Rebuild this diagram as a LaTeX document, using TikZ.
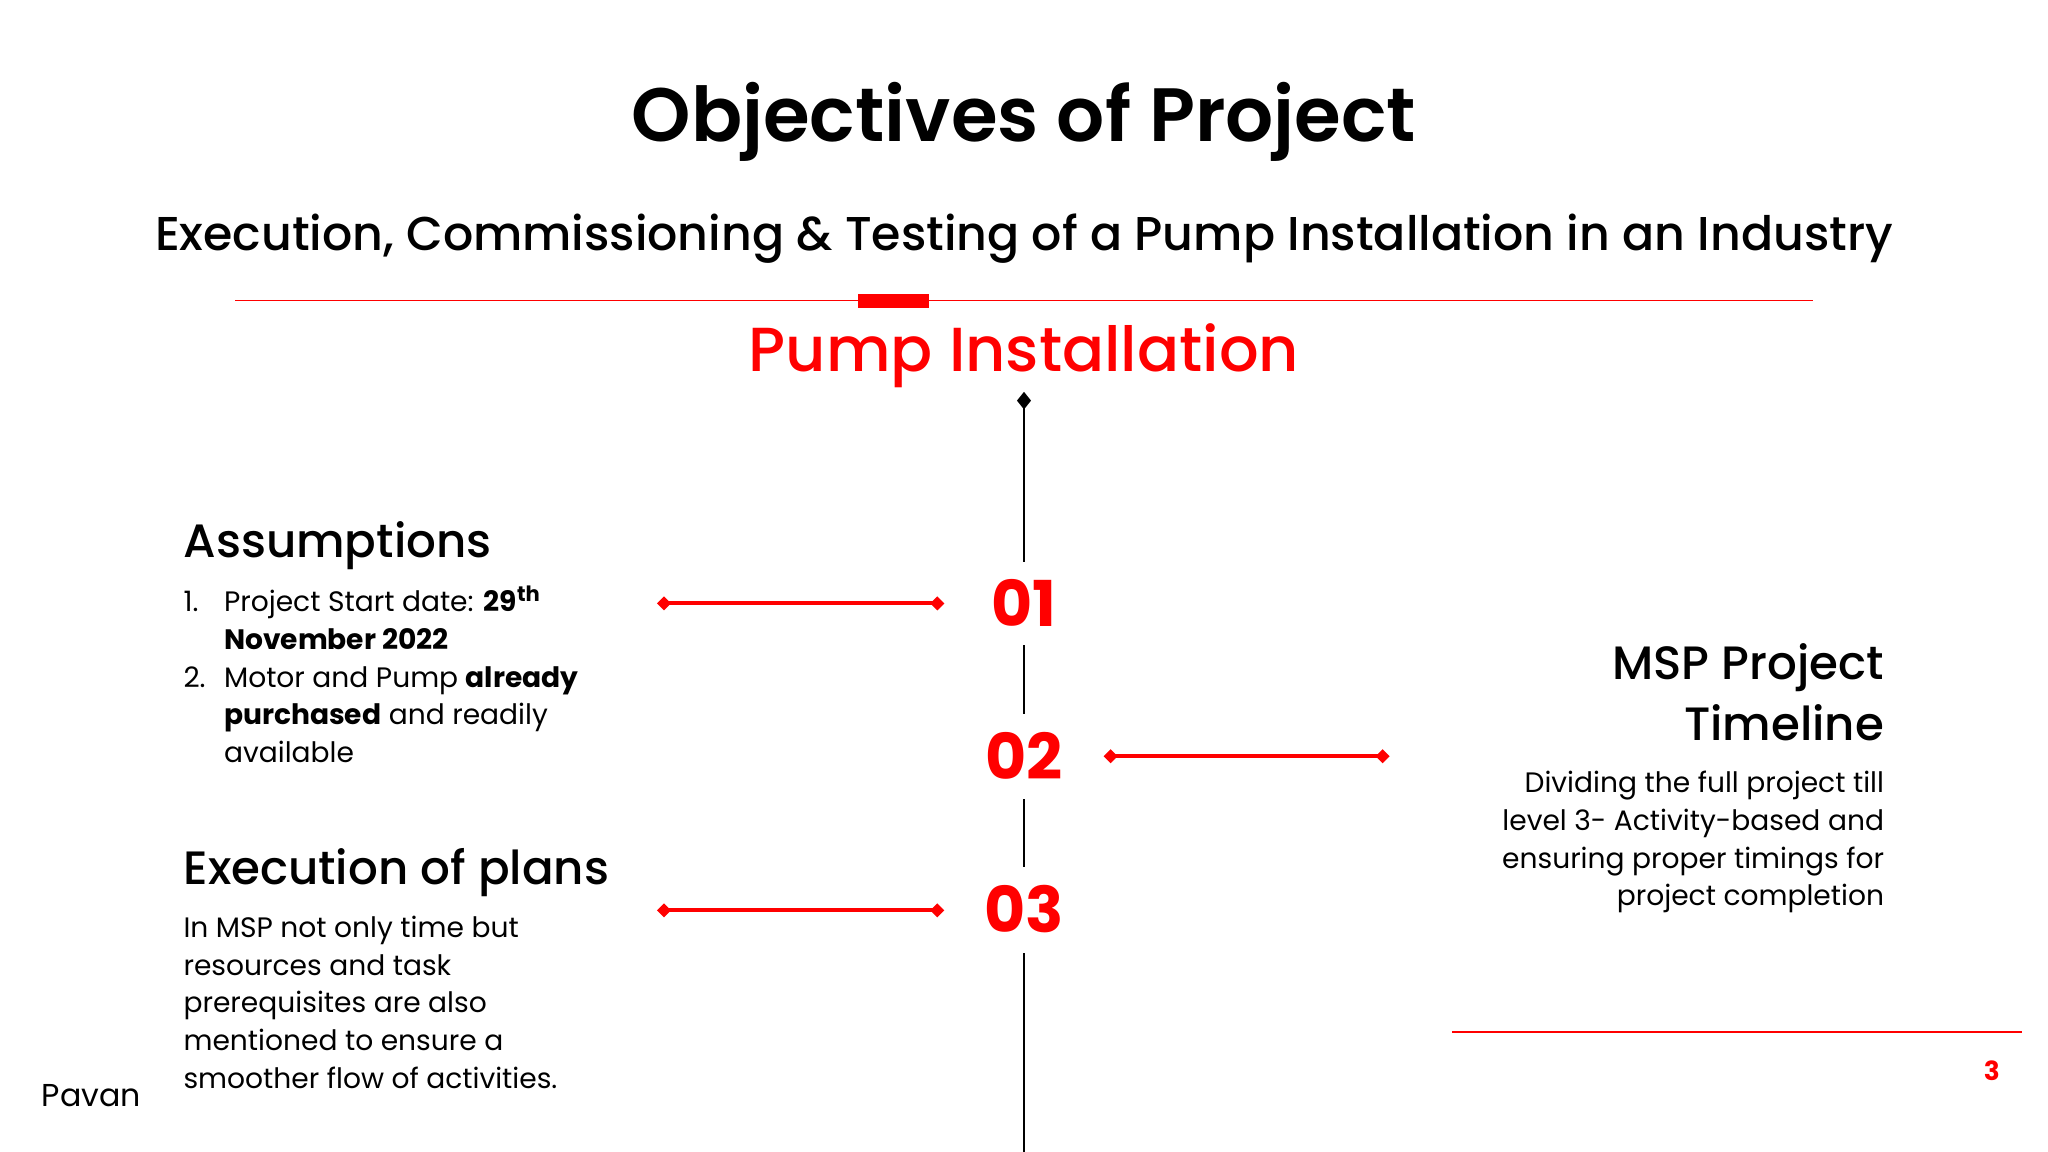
\documentclass[tikz,border=0pt]{standalone}
\usepackage{fontspec}
\setmainfont{Poppins}
\newfontfamily\pmed{Poppins Medium}
\newfontfamily\psemi{Poppins SemiBold}
\definecolor{pred}{RGB}{255,0,0}
\usetikzlibrary{arrows.meta}
\tikzset{
  u/.style={x=0.013061cm,y=-0.013061cm},
  redarrow/.style={pred,line width=1.1pt,{Diamond[length=4pt,width=4pt]}-{Diamond[length=4pt,width=4pt]}},
  num/.style={text=pred,font=\fontsize{18}{20}\selectfont\bfseries},
  head/.style={anchor=base west,inner sep=0,font=\fontsize{13.3}{17}\pmed},
  body/.style={anchor=north west,inner sep=0,align=left,font=\fontsize{8}{10.7}\selectfont},
}
\begin{document}
\begin{tikzpicture}[u]
\useasboundingbox (0,0) rectangle (1568,882);
\node[font=\fontsize{21.5}{26}\psemi] (title) at (784,93) {Objectives of Project};
\node[font=\fontsize{13.5}{17}\pmed] (sub) at (784,183) {Execution, Commissioning \& Testing of a Pump Installation in an Industry};
\coordinate (la) at (180,230); \coordinate (lb) at (1388,230);
\draw[pred,line width=0.5pt] (la) -- (lb);
\fill[pred] (657,225) rectangle (711,236);
\node[text=pred,font=\fontsize{17.7}{21}\pmed] (pump) at (784,272) {Pump Installation};
\coordinate (top) at (784,300); \coordinate (bot) at (784,882);
\node[num] (n1) at (784,462) {01};
\node[num] (n2) at (784,579) {02};
\node[num] (n3) at (784,696) {03};
\draw[line width=0.7pt,{Diamond[length=5pt,width=4pt]}-] (top) -- (784,430);
\draw[line width=0.7pt] (784,494) -- (784,547);
\draw[line width=0.7pt] (784,612) -- (784,664);
\draw[line width=0.7pt] (784,730) -- (bot);
\coordinate (a1) at (503,462); \coordinate (b1) at (723,462);
\coordinate (a2) at (845,579); \coordinate (b2) at (1064,579);
\coordinate (a3) at (503,697); \coordinate (b3) at (723,697);
\draw[redarrow] (a1) -- (b1);
\draw[redarrow] (a2) -- (b2);
\draw[redarrow] (a3) -- (b3);
\node[head] (ass) at (140,427) {Assumptions};
\node[body,anchor=base west] (i1) at (140,468) {1.};
\node[body,anchor=base west] (t1) at (171,468) {Project Start date: \textbf{29\textsuperscript{th}}};
\node[body,anchor=base west] (t1b) at (171,497) {\textbf{November 2022}};
\node[body,anchor=base west] (i2) at (140,526) {2.};
\node[body,anchor=base west] (t2) at (171,526) {Motor and Pump \textbf{already}};
\node[body,anchor=base west] (t2b) at (171,555) {\textbf{purchased} and readily};
\node[body,anchor=base west] (t2c) at (171,584) {available};
\node[head] (exe) at (140,677) {Execution of plans};
\node[body,anchor=north west] (ep) at (140,701) {In MSP not only time but\\resources and task\\prerequisites are also\\mentioned to ensure a\\smoother flow of activities.};
\node[head,anchor=base east,align=right] (msp) at (1443,520) {MSP Project};
\node[head,anchor=base east,align=right] (tl) at (1443,567) {Timeline};
\node[body,anchor=north east,align=right] (mp) at (1443,590) {Dividing the full project till\\level 3- Activity-based and\\ensuring proper timings for\\project completion};
\coordinate (ra) at (1112,790); \coordinate (rb) at (1548,790);
\draw[pred,line width=0.5pt] (ra) -- (rb);
\node[text=pred,font=\fontsize{7.5}{9}\bfseries] (pg) at (1525,820) {3};
\node[font=\fontsize{9}{11}\selectfont] (pv) at (70,839) {Pavan};
\end{tikzpicture}
\end{document}
